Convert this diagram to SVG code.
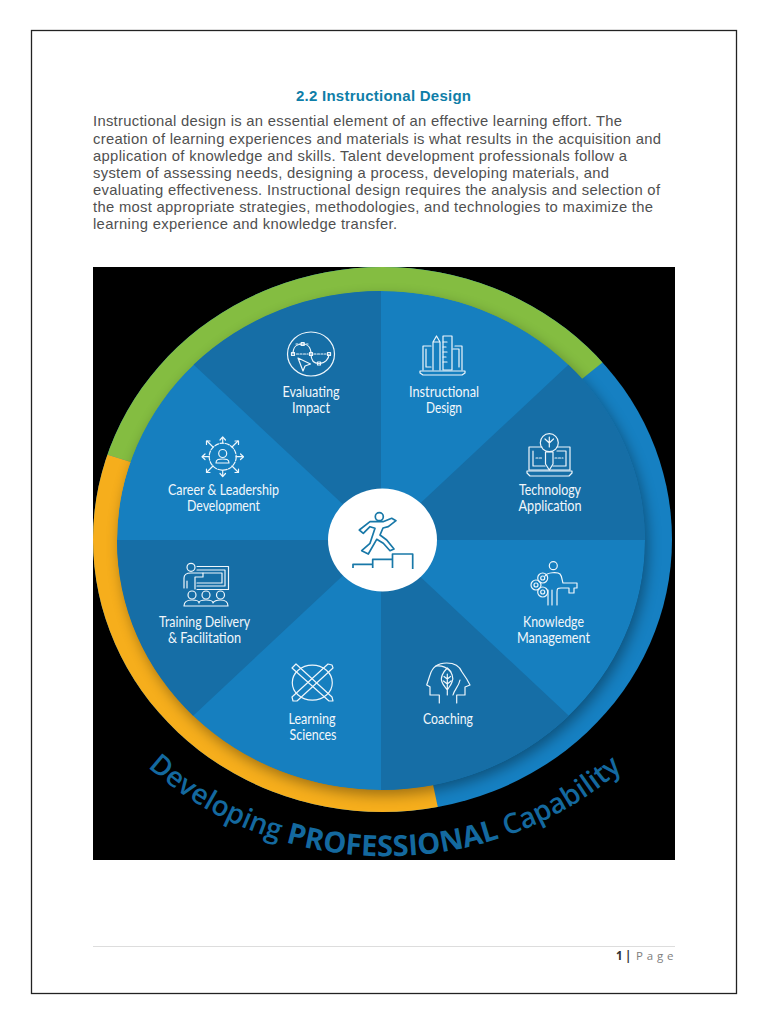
<svg xmlns="http://www.w3.org/2000/svg" width="768" height="1024" viewBox="0 0 768 1024">
<style>
.body{font-family:"Liberation Sans",Arial,sans-serif;font-size:14.8px;fill:#505050}
.lb{font-family:Lato,"Open Sans",sans-serif;font-size:15px;fill:#f2f7fb;text-anchor:middle}
.ic{fill:none;stroke:#eef6fb;stroke-width:1.2;stroke-linejoin:round;stroke-linecap:round}
.run{fill:none;stroke:#1878a8;stroke-width:1.7;stroke-linejoin:round}
.cap{font-family:"Open Sans","Noto Sans",sans-serif;font-size:28px;font-weight:600;fill:#14699f}
</style>
<defs>
<clipPath id="disc"><ellipse cx="381" cy="540.5" rx="264" ry="249.5"/></clipPath>
<clipPath id="ringclip"><ellipse cx="382.5" cy="539.5" rx="289.5" ry="272.5"/></clipPath>
<filter id="bl" x="-20%" y="-20%" width="140%" height="140%"><feGaussianBlur stdDeviation="7"/></filter>
<path id="capPath" d="M150,769 A345,322 0 0 0 620,771"/>
</defs>
<rect width="768" height="1024" fill="#fff"/>
<rect x="31.5" y="30.5" width="705" height="963" fill="none" stroke="#222" stroke-width="1.3"/>
<text x="383.500" y="101" text-anchor="middle" font-family="Liberation Sans,Arial,sans-serif" font-weight="700" font-size="15" textLength="175" fill="#0f7ea8">2.2 Instructional Design</text>
<g class="body">
<text x="93" y="126" textLength="529">Instructional design is an essential element of an effective learning effort. The</text>
<text x="93" y="144" textLength="568">creation of learning experiences and materials is what results in the acquisition and</text>
<text x="93" y="161" textLength="534">application of knowledge and skills. Talent development professionals follow a</text>
<text x="93" y="178" textLength="516">system of assessing needs, designing a process, developing materials, and</text>
<text x="93" y="195" textLength="567">evaluating effectiveness. Instructional design requires the analysis and selection of</text>
<text x="93" y="212" textLength="560">the most appropriate strategies, methodologies, and technologies to maximize the</text>
<text x="93" y="229" textLength="304">learning experience and knowledge transfer.</text>
</g>
<rect x="93" y="267" width="582" height="593" fill="#000"/>
<g id="ring">
<g clip-path="url(#ringclip)">
<rect x="90" y="260" width="590" height="560" fill="#1680c2"/>
<polygon points="381,540 -30,412 -30,-100 800,-100 709,277" fill="#84bd41"/>
<polygon points="381,540 -30,412 -30,1100 495,1076" fill="#f6ae1c"/>
<ellipse cx="384" cy="546" rx="264" ry="249" fill="#000" opacity=".36" filter="url(#bl)"/>
</g>
</g>
<g id="sectors" clip-path="url(#disc)">
<ellipse cx="381" cy="540.5" rx="264" ry="249.5" fill="#167fbf"/>
<g fill="#166ea6">
<polygon points="381,540 381,190 7,190"/>
<polygon points="381,540 755,190 755,540"/>
<polygon points="381,540 755,890 381,890"/>
<polygon points="381,540 7,890 7,540"/>
</g>
</g>
<g id="evaluating-impact">
<g class="ic">
<ellipse cx="311" cy="354" rx="23.5" ry="22"/>
<path d="M293,354C293,345 298,344 302.7,344C307,344 311,347 311,354C311,360 314,363.500 319,363.500C325,363.500 329,359 329,354"/>
<path d="M296,344H308M296.500,354H308M314,354H326" stroke-dasharray="2 1.500"/>
<rect x="291.500" y="352.500" width="3" height="3"/><rect x="301.200" y="342.500" width="3" height="3"/><rect x="309.500" y="352.500" width="3" height="3"/><rect x="317.500" y="362" width="3" height="3"/><rect x="327.500" y="352.500" width="3" height="3"/>
<path d="M298,358L310.500,364L305,366L303,371Z"/>
</g>
<text class="lb" x="311" y="397" textLength="57" lengthAdjust="spacingAndGlyphs">Evaluating</text>
<text class="lb" x="311" y="413" textLength="38" lengthAdjust="spacingAndGlyphs">Impact</text>
</g>
<g id="instructional-design">
<g class="ic">
<path d="M431,346H423V370M462,370V346H455M426,349V367H431M459,367V349H453"/>
<path d="M420,371H465V373L462,375H423L420,373Z"/>
<path d="M433,370V342L436.500,336L440,342V370M433,342H440"/>
<rect x="443" y="336" width="9" height="34"/>
<path d="M443,342H447M443,347H446M443,352H447M443,357H446M443,362H447"/>
</g>
<text class="lb" x="444" y="397" textLength="70" lengthAdjust="spacingAndGlyphs">Instructional</text>
<text class="lb" x="444" y="413" textLength="36" lengthAdjust="spacingAndGlyphs">Design</text>
</g>
<g id="technology-application">
<g class="ic">
<path d="M542,447H529V470H570V447H557M533,451V466H545M566,451H557M566,451V466H553"/>
<path d="M527,471H572V473L569,476H530L527,473Z"/>
<circle cx="549.300" cy="442.700" r="9"/>
<path d="M549.300,447V437M549.300,443L545,439M549.300,443L553.500,439"/>
<path d="M545.500,452V464L549.300,470L553,464V452Z"/>
<path d="M536,458H543M555,458H563" stroke-dasharray="2 1.500"/>
</g>
<text class="lb" x="550" y="495" textLength="62" lengthAdjust="spacingAndGlyphs">Technology</text>
<text class="lb" x="550" y="511" textLength="63" lengthAdjust="spacingAndGlyphs">Application</text>
</g>
<g id="knowledge-management">
<g class="ic">
<circle cx="553.300" cy="565.700" r="4"/>
<path d="M545,576C547,572 558,572 560,574C562,576 562,580 563,583H577V588H574V593H569V588H561C558,588 557,588 557,592V605M552,605V590M548,605V590"/>
<circle cx="536" cy="585" r="5"/><circle cx="536" cy="585" r="2"/>
<circle cx="542.700" cy="578" r="5"/><circle cx="542.700" cy="578" r="2"/>
<circle cx="542.700" cy="592" r="5"/><circle cx="542.700" cy="592" r="2"/>
</g>
<text class="lb" x="553.500" y="627" textLength="61" lengthAdjust="spacingAndGlyphs">Knowledge</text>
<text class="lb" x="553.500" y="643" textLength="73" lengthAdjust="spacingAndGlyphs">Management</text>
</g>
<g id="coaching">
<g class="ic">
<path d="M439.300,703V695H430V686.700L426.700,685L430,675C432,668 437,663 446.700,663C455,663 460,667 462,672L466.700,679L470,685L465,687V695H456.700V703"/>
<path d="M436,666C442,665 448,668 451,672M460,680C459,686 454,690 453,695"/>
<path d="M447.300,668C452,672 454,678 452,682C451,685 449,687 447.300,690C445,687 443,685 442,682C440,678 443,672 447.300,668ZM447.300,674V695M447.300,679L444,676.500M447.300,679L450.500,676.500M447.300,684L443.500,681M447.300,684L451,681"/>
</g>
<text class="lb" x="448" y="724" textLength="50" lengthAdjust="spacingAndGlyphs">Coaching</text>
</g>
<g id="learning-sciences">
<g class="ic">
<ellipse cx="312.300" cy="682.700" rx="20" ry="17.500"/>
<path d="M292,668L296,664L332,697L333,701L329,701L292,668Z"/>
<path d="M332,665L328,664L292,697L293,701L297,701L333,668Z"/>
</g>
<text class="lb" x="312" y="723.500" textLength="47" lengthAdjust="spacingAndGlyphs">Learning</text>
<text class="lb" x="313" y="740" textLength="47" lengthAdjust="spacingAndGlyphs">Sciences</text>
</g>
<g id="training-delivery">
<g class="ic">
<circle cx="191" cy="567.300" r="4"/>
<path d="M184,588V578C184,574 187,573 191,573H203V577H195V589M187,581V588"/>
<path d="M197,566.500H228.500V589.500H197M197,570H225V586H197M203,573H222V583H197"/>
<circle cx="192" cy="595" r="4"/><circle cx="206" cy="595" r="4"/><circle cx="220.500" cy="595" r="4"/>
<path d="M184,606C184,601 187,600 192,600C197,600 199,601 199,603C199,601 201,600 206,600C211,600 213,601 213,603C214,601 216,600 220.500,600C226,600 228,602 228,606Z"/>
</g>
<text class="lb" x="204.500" y="627" textLength="91" lengthAdjust="spacingAndGlyphs">Training Delivery</text>
<text class="lb" x="204.500" y="643" textLength="73" lengthAdjust="spacingAndGlyphs">&amp; Facilitation</text>
</g>
<g id="career-leadership">
<g class="ic">
<circle cx="222.700" cy="456.700" r="13.500" stroke-dasharray="4 1.500"/>
<circle cx="222.700" cy="453.500" r="4"/>
<path d="M216,463C216,459 219,459 222.700,459C226,459 229,459 229,463Z"/>
<path d="M222.700,443V438M222.700,470V476M236,456.700H243M209,456.700H203M232,447L238,441M213,447L207,441M232,466L238,472M213,466L207,472"/>
<path d="M220,440L222.700,437L225.500,440M220,473.500L222.700,476.500L225.500,473.500M240.500,454L243.500,456.700L240.500,459.500M205,454L202,456.700L205,459.500M235,441H238.500V444.500M210,441H206.500V444.500M235,472.500H238.500V469M210,472.500H206.500V469"/>
</g>
<text class="lb" x="223.500" y="495" textLength="111" lengthAdjust="spacingAndGlyphs">Career &amp; Leadership</text>
<text class="lb" x="223.500" y="511" textLength="73" lengthAdjust="spacingAndGlyphs">Development</text>
</g>
<g id="center">
<ellipse cx="382.500" cy="540" rx="54.500" ry="51.500" fill="#fff"/>
<g class="run">
<circle cx="379.300" cy="516.700" r="4"/>
<path d="M359.300,530L370,521.700H383L391.700,518.300L396,520.700L388.300,526.700L383,528L380,535L386.700,540L394,549L390,550.700L383.300,543.300L376.700,539.300L368.300,554L361.700,550.700L370,543.300L375,528.300L370,526.700L363.300,533.300Z"/>
<path d="M353,568V564.300H372.700V568M372.700,564V559.300H392.500V568M392.500,559V554H412.700V569"/>
</g>
</g>
<text class="cap"><textPath href="#capPath" startOffset="50%" text-anchor="middle">Developing <tspan font-weight="700" font-size="29">PROFESSIONAL</tspan> Capability</textPath></text>
<g id="footer">
<line x1="93" y1="946.500" x2="675" y2="946.500" stroke="#ddd"/>
<text x="616" y="960" font-family="Open Sans,sans-serif" font-size="11.500" font-weight="700" fill="#333">1</text>
<text x="625" y="960" font-family="Open Sans,sans-serif" font-size="11.500" font-weight="700" fill="#333">|</text>
<text x="636" y="960" font-family="Open Sans,sans-serif" font-size="11.500" letter-spacing="3.800" fill="#808080">Page</text>
</g>
</svg>
